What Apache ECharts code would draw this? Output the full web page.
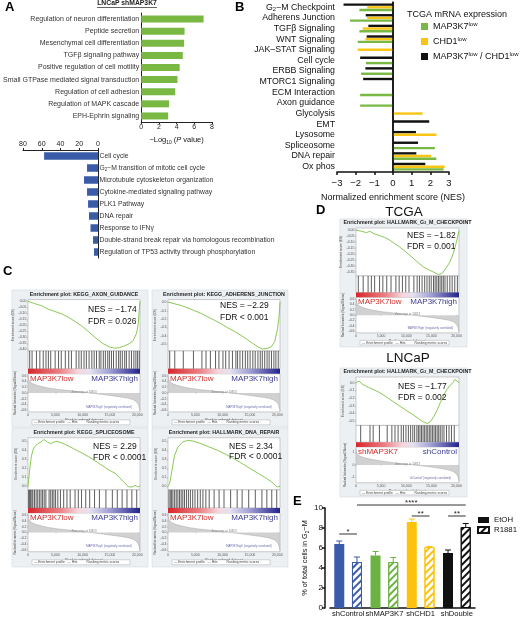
<!DOCTYPE html>
<html>
<head>
<meta charset="utf-8">
<script src="https://cdn.jsdelivr.net/npm/echarts@6/dist/echarts.min.js"></script>
<style>
  html, body { margin: 0; padding: 0; background: #fff; }
  #main { width: 520px; height: 621px; }
</style>
</head>
<body>
<div id="main"></div>
<script>
var FONT = '"Liberation Sans", Arial, Helvetica, sans-serif';
var GREEN = '#78b843', BLUE = '#3a5ba7', YELLOW = '#f9c514', BLACK = '#111';

// A: GO terms, -log10(P)
var upTerms = ['Regulation of neuron differentiation', 'Peptide secretion', 'Mesenchymal cell differentiation',
  'TGFβ signaling pathway', 'Positive regulation of cell motility', 'Small GTPase mediated signal transduction',
  'Regulation of cell adhesion', 'Regulation of MAPK cascade', 'EPH-Ephrin signaling'];
var upValues = [7.05, 4.9, 4.85, 4.7, 4.35, 4.1, 3.85, 3.15, 3.05];
var downTerms = ['Cell cycle', 'G2M transition', 'Microtubule cytoskeleton organization',
  'Cytokine-mediated signaling pathway', 'PLK1 Pathway', 'DNA repair', 'Response to IFNγ',
  'Double-strand break repair via homologous recombination', 'Regulation of TP53 activity through phosphorylation'];
var downValues = [57.5, 11.7, 14.9, 11.7, 10.6, 9.6, 8, 5.3, 4.3];

// B: NES per pathway
var nesPathways = ['G2M Checkpoint', 'Adherens Junction', 'TGFβ Signaling', 'WNT Signaling', 'JAK–STAT Signaling',
  'Cell cycle', 'ERBB Signaling', 'MTORC1 Signaling', 'ECM Interaction', 'Axon guidance', 'Glycolysis', 'EMT',
  'Lysosome', 'Spliceosome', 'DNA repair', 'Ox phos'];
var nesMap3k7 = [-1.8, -2.3, -1.8, -1.89, null, -1.45, -1.71, null, -1.76, -1.76, null, null, null, 2.24, 2.32, 2.71];
var nesChd1 = [-1.38, -1.38, -1.62, -1.48, -1.89, null, null, null, null, null, 1.59, null, 2.33, null, 2.05, 2.77];
var nesDouble = [-2.65, -1.46, -1.32, -1.41, null, -1.76, -1.48, -1.6, null, null, null, 1.94, 1.23, 1.34, 1.25, 1.73];

// C / D: GSEA running enrichment scores [rank, ES], hit ranks, ranked metric
var rankMax = 20500;
var rankTicks = [0, 5000, 10000, 15000, 20000];
var esAxon = [[0,0],[1242,-0.02],[2484,-0.037],[3726,-0.066],[4968,-0.086],[6210,-0.106],[7452,-0.134],[8694,-0.171],
  [9936,-0.209],[11178,-0.257],[12420,-0.306],[13662,-0.351],[14904,-0.38],[15836,-0.391],[16767,-0.386],[17699,-0.371],
  [18630,-0.351],[19251,-0.329],[19872,-0.266],[20183,-0.186],[20369,-0.071],[20500,0]];
var hitsAxon = [310,745,1550,2170,2790,3290,3730,4160,4970,5590,6090,6830,7450,7950,8820,9320,9750,10250,10680,11180,
  11680,12110,12540,13040,13350,13790,14160,14590,14900,15280,15650,16150,16580,16890,17260,17700,18010,18510,18940,
  19380,19750,20060,20370];
var esAdherens = [[0,0],[1213,-0.02],[2426,-0.041],[3639,-0.069],[4852,-0.102],[6065,-0.134],[7278,-0.175],[8491,-0.215],
  [9704,-0.256],[10917,-0.305],[12130,-0.346],[13343,-0.394],[14556,-0.447],[15466,-0.488],[16376,-0.528],[17285,-0.557],
  [18195,-0.549],[18923,-0.53],[19530,-0.47],[20015,-0.33],[20318,-0.18],[20500,0]];
var hitsAdherens = [310,1240,2800,4660,6210,6960,7760,8700,9320,10060,10560,11180,11800,12420,12730,13170,13660,14160,
  14590,15030,15530,15960,16460,16890,17260,17700,18130,18510,18940,19380,19750,20180];
var esSpliceosome = [[0,0],[297,0.178],[594,0.326],[891,0.4],[1188,0.437],[1782,0.474],[2376,0.493],[2970,0.519],
  [3564,0.493],[4158,0.474],[4752,0.493],[5346,0.5],[6237,0.481],[7128,0.456],[8316,0.419],[10098,0.363],[11880,0.3],
  [13068,0.252],[14556,0.19],[16038,0.141],[17523,0.048],[18414,-0.007],[18711,0.011],[19186,-0.007],[19602,0.011],
  [20077,-0.007],[20500,0]];
var hitsSpliceosome = [120,300,480,710,890,1190,1490,1780,2080,2380,2670,2970,3270,3860,4160,4460,4750,5050,5460,5940,
  6530,7130,7720,8610,9210,9800,10570,11290,12180,13070,14260,15440,16340,17230,18120,19010,19900];
var esDnaRepair = [[0,0],[302,0.03],[724,0.178],[1206,0.344],[1809,0.437],[2714,0.493],[3618,0.511],[4523,0.504],
  [6030,0.474],[7538,0.437],[9045,0.4],[10553,0.356],[12060,0.307],[13568,0.252],[15075,0.196],[16583,0.141],
  [18090,0.085],[18995,0.048],[19598,0.011],[20020,-0.007],[20381,0.011],[20500,0]];
var hitsDnaRepair = [180,420,660,900,1210,1510,1810,2110,2410,2710,3020,3380,3740,4100,4520,4940,5430,5910,6390,6930,
  7540,8440,9350,10250,11460,12660,13570,14770,15980,17190,18090,18990,19900];
var esTcga = [[0,0],[1107,-0.011],[2083,-0.022],[2734,-0.011],[3711,-0.033],[4687,-0.047],[5664,-0.061],[6640,-0.083],
  [7617,-0.111],[8593,-0.139],[9570,-0.172],[10546,-0.206],[11523,-0.242],[12499,-0.278],[13476,-0.311],[14452,-0.333],
  [15429,-0.353],[16405,-0.372],[17056,-0.367],[17707,-0.333],[18684,-0.269],[19335,-0.2],[19986,-0.103],[20500,-0.006]];
var hitsTcga = [460,1430,2410,3060,3710,4690,5340,6120,6970,7940,8590,9240,9900,10550,11520,12170,12630,13150,13670,
  14130,14580,14970,15430,15750,16080,16410,16730,17060,17380,17710,18160,18680,19140,19660,20180];
var esLncap = [[0,0],[621,0.022],[1242,-0.018],[2484,-0.061],[3726,-0.096],[4968,-0.14],[6210,-0.193],[7452,-0.25],
  [8694,-0.307],[9936,-0.36],[11178,-0.412],[12420,-0.469],[13352,-0.513],[14159,-0.535],[14780,-0.513],[15525,-0.439],
  [16146,-0.36],[16767,-0.263],[17388,-0.175],[18009,-0.096],[18630,-0.044],[19251,0],[19686,0.044],[20058,0.026],[20500,0]];
var hitsLncap = [930,2790,3420,4660,6210,7140,7760,8380,9000,9440,9940,10430,10870,11300,11670,12110,12420,12730,13040,
  13350,13660,13970,14280,14590,14900,15210,15530,15840,16150,16460,16770,17140,17510,18010,18510,19000,19560];
var metricTcga = [[0,0.62],[150,0.45],[600,0.34],[1500,0.27],[2500,0.22],[3700,0.17],[5500,0.12],[7500,0.08],[9500,0.04],
  [11000,0],[13000,-0.04],[15000,-0.09],[17000,-0.14],[18500,-0.19],[19300,-0.24],[19900,-0.32],[20250,-0.42],[20500,-0.62]];
var metricLncap = [[0,1.3],[150,0.95],[600,0.75],[1500,0.6],[3000,0.45],[5000,0.32],[7000,0.2],[9000,0.1],[10500,0.03],
  [11300,0],[13000,-0.08],[15000,-0.18],[17000,-0.3],[18500,-0.42],[19400,-0.55],[20000,-0.75],[20300,-0.95],[20500,-1.3]];

// E: % cells in G2-M
var eGroups = ['shControl', 'shMAP3K7', 'shCHD1', 'shDouble'];
var eEtoh = [6.4, 5.25, 8.6, 5.5];
var eEtohErr = [0.3, 0.4, 0.3, 0.3];
var eR1881 = [4.6, 4.6, 6.1, 8.1];
var eR1881Err = [0.5, 0.45, 0.05, 0.35];
var eColors = [BLUE, '#6cb343', '#fcc20c', BLACK];
var eSig = [[0, 0, 0, 1, 7.4], [2, 0, 2, 1, 9.2], [3, 0, 3, 1, 9.2], [0, 1, 3, 1, 10.3]];
var eSigLabels = ['*', '**', '**', '****'];

var grids = [], xAxes = [], yAxes = [], series = [], graphics = [];

function addText(x, y, text, size, opts) {
  graphics.push({ type: 'text', silent: true, z: 100, style: Object.assign({
    x: x, y: y, text: text, fontSize: size, fontFamily: FONT, fill: '#111', align: 'left', verticalAlign: 'middle'
  }, opts || {}) });
}
function minus(v) { return v < 0 ? '−' + (-v) : '' + v; }
var subRich = function (size) {
  return { n: { fontSize: size, lineHeight: size + 3, color: '#111' },
           s: { fontSize: size * 0.65, lineHeight: size * 0.6, verticalAlign: 'bottom', color: '#111' },
           i: { fontSize: size, lineHeight: size + 3, fontStyle: 'italic', color: '#111' } };
};

// ---- A top
grids.push({ left: 137, top: 13, width: 75, height: 109 });
xAxes.push({ gridIndex: 0, type: 'value', min: 0, max: 8, interval: 2,
  axisLine: { show: true, lineStyle: { color: '#222', width: 1 } }, axisTick: { show: true, length: 2, lineStyle: { color: '#222' } },
  axisLabel: { fontSize: 7, margin: 2, color: '#222' }, splitLine: { show: false },
  name: '{n|−Log}{s|10}{n| (}{i|P}{n| value)}', nameLocation: 'middle', nameGap: 13,
  nameTextStyle: { rich: subRich(7.5) } });
yAxes.push({ gridIndex: 0, type: 'category', data: upTerms, inverse: true,
  axisLine: { lineStyle: { color: '#222', width: 1 } }, axisTick: { length: 2, alignWithLabel: true, lineStyle: { color: '#222' } },
  axisLabel: { fontSize: 7, margin: 2, color: '#333', interval: 0 } });
series.push({ type: 'bar', xAxisIndex: 0, yAxisIndex: 0, data: upValues, barWidth: 7, itemStyle: { color: GREEN }, silent: true });

// ---- A bottom
grids.push({ left: 23, top: 150, width: 75, height: 108 });
xAxes.push({ gridIndex: 1, type: 'value', position: 'top', inverse: true, min: 0, max: 80, interval: 20,
  axisLine: { show: true, lineStyle: { color: '#222', width: 1 } }, axisTick: { show: true, length: 2, lineStyle: { color: '#222' } },
  axisLabel: { fontSize: 7, margin: 2, color: '#222' }, splitLine: { show: false } });
yAxes.push({ gridIndex: 1, type: 'category', data: downTerms, inverse: true, position: 'right',
  axisLine: { lineStyle: { color: '#222', width: 1 } }, axisTick: { show: false },
  axisLabel: { fontSize: 6.8, margin: 1.5, color: '#333', interval: 0,
    formatter: function (v) { return v === 'G2M transition' ? '{n|G}{s|2}{n|−M transition of mitotic cell cycle}' : '{n|' + v + '}'; },
    rich: { n: { fontSize: 6.8, lineHeight: 9, color: '#333' }, s: { fontSize: 4.5, lineHeight: 4, verticalAlign: 'bottom', color: '#333' } } } });
series.push({ type: 'bar', xAxisIndex: 1, yAxisIndex: 1, data: downValues, barWidth: 7.5, itemStyle: { color: BLUE }, silent: true });

// ---- B
grids.push({ left: 337, top: 2, width: 112, height: 170 });
xAxes.push({ gridIndex: 2, type: 'value', min: -3, max: 3, interval: 1,
  axisLine: { show: true, lineStyle: { color: '#111', width: 1.5 } }, axisTick: { show: true, length: 3, lineStyle: { color: '#111', width: 1.5 } },
  axisLabel: { fontSize: 9.5, margin: 6, color: '#111', formatter: minus }, splitLine: { show: false },
  name: 'Normalized enrichment score (NES)', nameLocation: 'middle', nameGap: 21, nameTextStyle: { fontSize: 9, color: '#111' } });
yAxes.push({ gridIndex: 2, type: 'category', data: nesPathways, inverse: true,
  axisLine: { lineStyle: { color: '#111', width: 1.5 } }, axisTick: { length: 3.5, alignWithLabel: true, interval: 0, lineStyle: { color: '#111', width: 1.5 } },
  axisLabel: { margin: 2, color: '#111', interval: 0,
    formatter: function (v) { return v === 'G2M Checkpoint' ? '{n|G}{s|2}{n|−M Checkpoint}' : '{n|' + v + '}'; },
    rich: { n: { fontSize: 8.8, lineHeight: 10, color: '#111' }, s: { fontSize: 5.8, lineHeight: 5, verticalAlign: 'bottom', color: '#111' } } } });
[['MAP3K7low / CHD1low', nesDouble, BLACK], ['CHD1low', nesChd1, YELLOW], ['MAP3K7low', nesMap3k7, GREEN]].forEach(function (s, k) {
  var ser = { name: s[0], type: 'bar', xAxisIndex: 2, yAxisIndex: 2, data: s[1], barWidth: 2.4, barGap: '12%',
    itemStyle: { color: s[2] }, silent: true };
  if (k === 0) {
    ser.markLine = { silent: true, symbol: 'none', label: { show: false }, lineStyle: { color: '#111', width: 1.5, type: 'solid' }, data: [{ xAxis: 0 }] };
  }
  series.push(ser);
});

// ---- E
grids.push({ left: 330, top: 508, width: 145, height: 100 });
xAxes.push({ gridIndex: 3, type: 'category', data: eGroups,
  axisLine: { lineStyle: { color: '#111', width: 1.5 } }, axisTick: { show: false },
  axisLabel: { fontSize: 7.6, margin: 2, color: '#111', interval: 0, hideOverlap: false } });
yAxes.push({ gridIndex: 3, type: 'value', min: 0, max: 10, interval: 2, offset: 5,
  axisLine: { show: true, lineStyle: { color: '#111', width: 1.5 } }, axisTick: { show: true, length: 3, lineStyle: { color: '#111', width: 1.5 } },
  axisLabel: { fontSize: 8, margin: 2, color: '#111' }, splitLine: { show: false },
  name: '{n|% of total cells in G}{s|2}{n|−M}', nameLocation: 'middle', nameGap: 12,
  nameTextStyle: { rich: subRich(7.3) } });
function hatch(c) {
  return { symbol: 'rect', symbolSize: 1, dashArrayX: [1, 0], dashArrayY: [1.3, 2.3], rotation: -Math.PI / 4, color: c };
}
series.push({ name: 'EtOH', type: 'bar', xAxisIndex: 3, yAxisIndex: 3, barWidth: 10, barGap: '77%', silent: true,
  itemStyle: { color: BLACK },
  data: eEtoh.map(function (v, i) { return { value: v, itemStyle: { color: eColors[i] } }; }) });
series.push({ name: 'R1881', type: 'bar', xAxisIndex: 3, yAxisIndex: 3, barWidth: 10, barGap: '77%', silent: true,
  itemStyle: { color: '#fff', borderColor: BLACK, borderWidth: 1, decal: hatch(BLACK) },
  data: eR1881.map(function (v, i) {
    return { value: v, itemStyle: { color: '#fff', borderColor: eColors[i], borderWidth: 1, decal: hatch(eColors[i]) } };
  }) });
function errorRender(side) {
  return function (params, api) {
    var band = api.size([1, 0])[0];
    var c = api.coord([api.value(0), api.value(1)]);
    var t = api.coord([api.value(0), api.value(1) + api.value(2)]);
    var x = c[0] + side * band * 0.244;
    var col = eColors[api.value(0)];
    return { type: 'group', children: [
      { type: 'line', shape: { x1: x, y1: c[1], x2: x, y2: t[1] }, style: { stroke: col, lineWidth: 1 } },
      { type: 'line', shape: { x1: x - 3, y1: t[1], x2: x + 3, y2: t[1] }, style: { stroke: col, lineWidth: 1 } }
    ] };
  };
}
series.push({ type: 'custom', xAxisIndex: 3, yAxisIndex: 3, silent: true, z: 5, renderItem: errorRender(-1),
  data: eEtoh.map(function (v, i) { return [i, v, eEtohErr[i]]; }) });
series.push({ type: 'custom', xAxisIndex: 3, yAxisIndex: 3, silent: true, z: 5, renderItem: errorRender(1),
  data: eR1881.map(function (v, i) { return [i, v, eR1881Err[i]]; }) });
series.push({ type: 'custom', xAxisIndex: 3, yAxisIndex: 3, silent: true, z: 5, data: eSig,
  renderItem: function (params, api) {
    var band = api.size([1, 0])[0];
    var y = api.coord([0, api.value(4)])[1];
    var x1 = api.coord([api.value(0), 0])[0] + (api.value(1) ? 1 : -1) * band * 0.244;
    var x2 = api.coord([api.value(2), 0])[0] + (api.value(3) ? 1 : -1) * band * 0.244;
    return { type: 'group', children: [
      { type: 'line', shape: { x1: x1, y1: y, x2: x2, y2: y }, style: { stroke: '#333', lineWidth: 1 } },
      { type: 'text', style: { text: eSigLabels[params.dataIndex], x: (x1 + x2) / 2, y: y + 2, align: 'center',
        verticalAlign: 'bottom', fontSize: 8, fontFamily: FONT, fill: '#222' } }
    ] };
  } });

// ---- GSEA plots
function gsea(box, p) {
  var bx = box[0], by = box[1], bw = box[2], bh = box[3];
  var left = bx + 16, width = bw - 24;
  var esTop = by + bh * 0.07, esBot = by + bh * 0.445;
  var hitBot = by + bh * 0.575, barBot = by + bh * 0.612, metBot = by + bh * 0.89;
  var g = grids.length, xi = xAxes.length, yi = yAxes.length;
  var frame = { show: true, backgroundColor: '#fff', borderColor: '#9a9a9a', borderWidth: 0.5 };
  grids.push(Object.assign({ left: left, width: width, top: esTop, height: esBot - esTop }, frame));
  grids.push(Object.assign({ left: left, width: width, top: esBot, height: hitBot - esBot }, frame));
  grids.push(Object.assign({ left: left, width: width, top: barBot, height: metBot - barBot }, frame));
  var tiny = { fontSize: 3.5, color: '#555', margin: 1.5 };
  var tickStyle = { color: '#777', width: 0.4 };
  [0, 1].forEach(function (k) {
    xAxes.push({ gridIndex: g + k, type: 'value', min: 0, max: rankMax, axisLine: { show: false },
      axisTick: { show: false }, axisLabel: { show: false }, splitLine: { show: false } });
  });
  xAxes.push({ gridIndex: g + 2, type: 'value', min: 0, max: rankMax, axisLine: { show: false }, splitLine: { show: false },
    axisTick: { show: true, length: 1, lineStyle: tickStyle, customValues: rankTicks },
    axisLabel: Object.assign({ customValues: rankTicks, formatter: function (v) { return v ? (v / 1000) + ',000' : '0'; } }, tiny),
    name: 'Rank in ordered dataset', nameLocation: 'middle', nameGap: 5.5, nameTextStyle: { fontSize: 3.5, color: '#444' } });
  yAxes.push({ gridIndex: g, type: 'value', min: p.esRange[0], max: p.esRange[1], axisLine: { show: false }, splitLine: { show: false },
    axisTick: { show: true, length: 1, lineStyle: tickStyle, customValues: p.esTicks },
    axisLabel: Object.assign({ customValues: p.esTicks, formatter: function (v) { return v.toFixed(p.esDec); } }, tiny),
    name: 'Enrichment score (ES)', nameLocation: 'middle', nameGap: 9, nameTextStyle: { fontSize: 3.2, color: '#444' } });
  yAxes.push({ gridIndex: g + 1, type: 'value', min: 0, max: 1, show: false });
  yAxes.push({ gridIndex: g + 2, type: 'value', min: p.metRange[0], max: p.metRange[1], axisLine: { show: false }, splitLine: { show: false },
    axisTick: { show: true, length: 1, lineStyle: tickStyle, customValues: p.metTicks },
    axisLabel: Object.assign({ customValues: p.metTicks, formatter: function (v) { return v.toFixed(p.metDec); } }, tiny),
    name: 'Ranked list metric (Signal2Noise)', nameLocation: 'middle', nameGap: 9, nameTextStyle: { fontSize: 3, color: '#444' } });
  series.push({ type: 'line', xAxisIndex: xi, yAxisIndex: yi, data: p.es, showSymbol: false, silent: true, z: 3,
    lineStyle: { color: '#7cc242', width: 0.9 } });
  series.push({ type: 'custom', xAxisIndex: xi + 1, yAxisIndex: yi + 1, silent: true,
    data: p.hits.map(function (r) { return [r, 1]; }),
    renderItem: function (params, api) {
      var a = api.coord([api.value(0), 0]), b = api.coord([api.value(0), 1]);
      return { type: 'line', shape: { x1: a[0], y1: a[1], x2: b[0], y2: b[1] }, style: { stroke: '#1a1a1a', lineWidth: 0.7 } };
    } });
  series.push({ type: 'line', xAxisIndex: xi + 2, yAxisIndex: yi + 2, data: p.metric, showSymbol: false, silent: true,
    lineStyle: { color: '#9a9a9a', width: 0.4 }, areaStyle: { color: '#bdbdbd' } });

  graphics.push({ type: 'rect', z: -10, silent: true, shape: { x: bx, y: by, width: bw, height: bh },
    style: { fill: '#edf0f3', stroke: '#d5d9de', lineWidth: 0.6 } });
  graphics.push({ type: 'rect', z: 10, silent: true, shape: { x: left, y: hitBot, width: width, height: barBot - hitBot },
    style: { fill: new echarts.graphic.LinearGradient(0, 0, 1, 0, [
      { offset: 0, color: '#d8262b' }, { offset: 0.28, color: '#ea7f83' }, { offset: 0.45, color: '#f6d6dc' },
      { offset: 0.55, color: '#e5e2f0' }, { offset: 0.72, color: '#a4a3d6' }, { offset: 1, color: '#22228c' }]) } });
  graphics.push({ type: 'rect', z: 10, silent: true,
    shape: { x: left + 4, y: by + bh * 0.948, width: width - 14, height: bh * 0.036 },
    style: { fill: '#fff', stroke: '#999', lineWidth: 0.4 } });
  addText(left + 6, by + bh * 0.966, '— Enrichment profile   — Hits          Ranking metric scores', 3.3, { fill: '#444' });
  addText(left + width / 2, by + bh * 0.03, p.title, 5.3,
    { align: 'center', fontWeight: 'bold', fill: '#222', rich: { s: { fontSize: 3.6, lineHeight: 3, verticalAlign: 'bottom', fontWeight: 'bold', fill: '#222' } } });
  addText(left + 2, barBot + 4.8, p.low, 8, { fill: '#d0302f' });
  addText(left + width - 2, barBot + 4.8, p.high, 8, { fill: '#3b3b93', align: 'right' });
  addText(left + width * 0.5, barBot + (metBot - barBot) * 0.47, 'Zero cross at 10813', 2.8, { fill: '#777', align: 'center' });
  addText(left + width * 0.72, metBot - 5, "'" + p.high + "' (negatively correlated)", 2.8, { fill: '#6a6aa8', align: 'center' });
  addText(bx + p.nesPos[0], by + p.nesPos[1], 'NES = ' + p.nes, 8.5);
  addText(bx + p.nesPos[0], by + p.nesPos[2], 'FDR ' + p.fdr, 8.5);
}

var esNegTicks2 = [-0.4, -0.35, -0.3, -0.25, -0.2, -0.15, -0.1, -0.05, 0];
var esNegTicks1 = [-0.5, -0.4, -0.3, -0.2, -0.1, 0];
var esPosTicks = [0, 0.1, 0.2, 0.3, 0.4, 0.5];
var metTicks = [-0.6, -0.4, -0.2, 0, 0.2, 0.4, 0.6];
var base = { metric: metricTcga, metRange: [-0.66, 0.66], metTicks: metTicks, metDec: 1, low: 'MAP3K7low', high: 'MAP3K7high' };

gsea([12, 290, 136, 137], Object.assign({}, base, { title: 'Enrichment plot: KEGG_AXON_GUIDANCE', es: esAxon, hits: hitsAxon,
  esRange: [-0.414, 0.014], esTicks: esNegTicks2, esDec: 2, nes: '−1.74', fdr: '= 0.026', nesPos: [76, 20, 32] }));
gsea([152, 290, 136, 137], Object.assign({}, base, { title: 'Enrichment plot: KEGG_ADHERENS_JUNCTION', es: esAdherens, hits: hitsAdherens,
  esRange: [-0.58, 0.03], esTicks: esNegTicks1, esDec: 1, nes: '−2.29', fdr: '< 0.001', nesPos: [68, 16, 28] }));
gsea([12, 428, 136, 139], Object.assign({}, base, { title: 'Enrichment plot: KEGG_SPLICEOSOME', es: esSpliceosome, hits: hitsSpliceosome,
  esRange: [-0.04, 0.54], esTicks: esPosTicks, esDec: 1, nes: '2.29', fdr: '< 0.0001', nesPos: [81, 19, 30] }));
gsea([152, 428, 136, 139], Object.assign({}, base, { title: 'Enrichment plot: HALLMARK_DNA_REPAIR', es: esDnaRepair, hits: hitsDnaRepair,
  esRange: [-0.04, 0.54], esTicks: esPosTicks, esDec: 1, nes: '2.34', fdr: '< 0.0001', nesPos: [77, 19, 29] }));
gsea([340, 219, 127, 128], Object.assign({}, base, { title: 'Enrichment plot: HALLMARK_G{s|2}_M_CHECKPOINT', es: esTcga, hits: hitsTcga,
  esRange: [-0.385, 0.017], esTicks: esNegTicks2.slice(1), esDec: 2, nes: '−1.82', fdr: '= 0.001', nesPos: [67, 17, 28] }));
gsea([340, 368, 127, 129], Object.assign({}, base, { title: 'Enrichment plot: HALLMARK_G{s|2}_M_CHECKPOINT', es: esLncap, hits: hitsLncap,
  esRange: [-0.56, 0.075], esTicks: esNegTicks1, esDec: 1, nes: '−1.77', fdr: '= 0.002', nesPos: [58, 19, 30],
  metric: metricLncap, metRange: [-1.45, 1.45], metTicks: [-1, 0, 1], metDec: 0, low: 'shMAP3K7', high: 'shControl' }));

// ---- panel letters and headings
['A', 5, 1, 'B', 235, 1, 'C', 3, 265, 'D', 316, 204, 'E', 293, 495].forEach(function (v, i, a) {
  if (i % 3 === 0) addText(a[i + 1], a[i + 2], v, 13, { fontWeight: 'bold', verticalAlign: 'top', fill: '#000' });
});
addText(127, 3.5, 'LNCaP shMAP3K7', 6.8, { align: 'center', fontWeight: 'bold', fill: '#222' });
graphics.push({ type: 'line', silent: true, z: 100, shape: { x1: 97, y1: 7.5, x2: 157, y2: 7.5 }, style: { stroke: '#222', lineWidth: 0.7 } });
addText(407, 15, 'TCGA mRNA expression', 9);
addText(404, 212, 'TCGA', 13.5, { align: 'center' });
addText(408, 358, 'LNCaP', 13.5, { align: 'center' });

var legendRich = { n: { fontSize: 9, lineHeight: 11, color: '#111' }, u: { fontSize: 6, lineHeight: 6, verticalAlign: 'top', color: '#111' } };
var option = {
  animation: false,
  textStyle: { fontFamily: FONT },
  grid: grids, xAxis: xAxes, yAxis: yAxes, series: series,
  graphic: { elements: graphics },
  legend: [
    { data: ['MAP3K7low', 'CHD1low', 'MAP3K7low / CHD1low'], left: 421, top: 21, orient: 'vertical', icon: 'rect',
      itemWidth: 7, itemHeight: 7, itemGap: 5, selectedMode: false, padding: 0,
      formatter: function (name) {
        if (name === 'MAP3K7low') return '{n|MAP3K7}{u|low}';
        if (name === 'CHD1low') return '{n|CHD1}{u|low}';
        return '{n|MAP3K7}{u|low}{n| / CHD1}{u|low}';
      },
      textStyle: { rich: legendRich, overflow: 'none' } },
    { data: ['EtOH', 'R1881'], left: 477, top: 516, orient: 'vertical', icon: 'rect',
      itemWidth: 11, itemHeight: 6, itemGap: 2, selectedMode: false, padding: 0,
      textStyle: { fontSize: 7.8, lineHeight: 8, color: '#111', overflow: 'none' } }
  ]
};
var chart = echarts.init(document.getElementById('main'));
chart.setOption(option);
</script>
</body>
</html>
